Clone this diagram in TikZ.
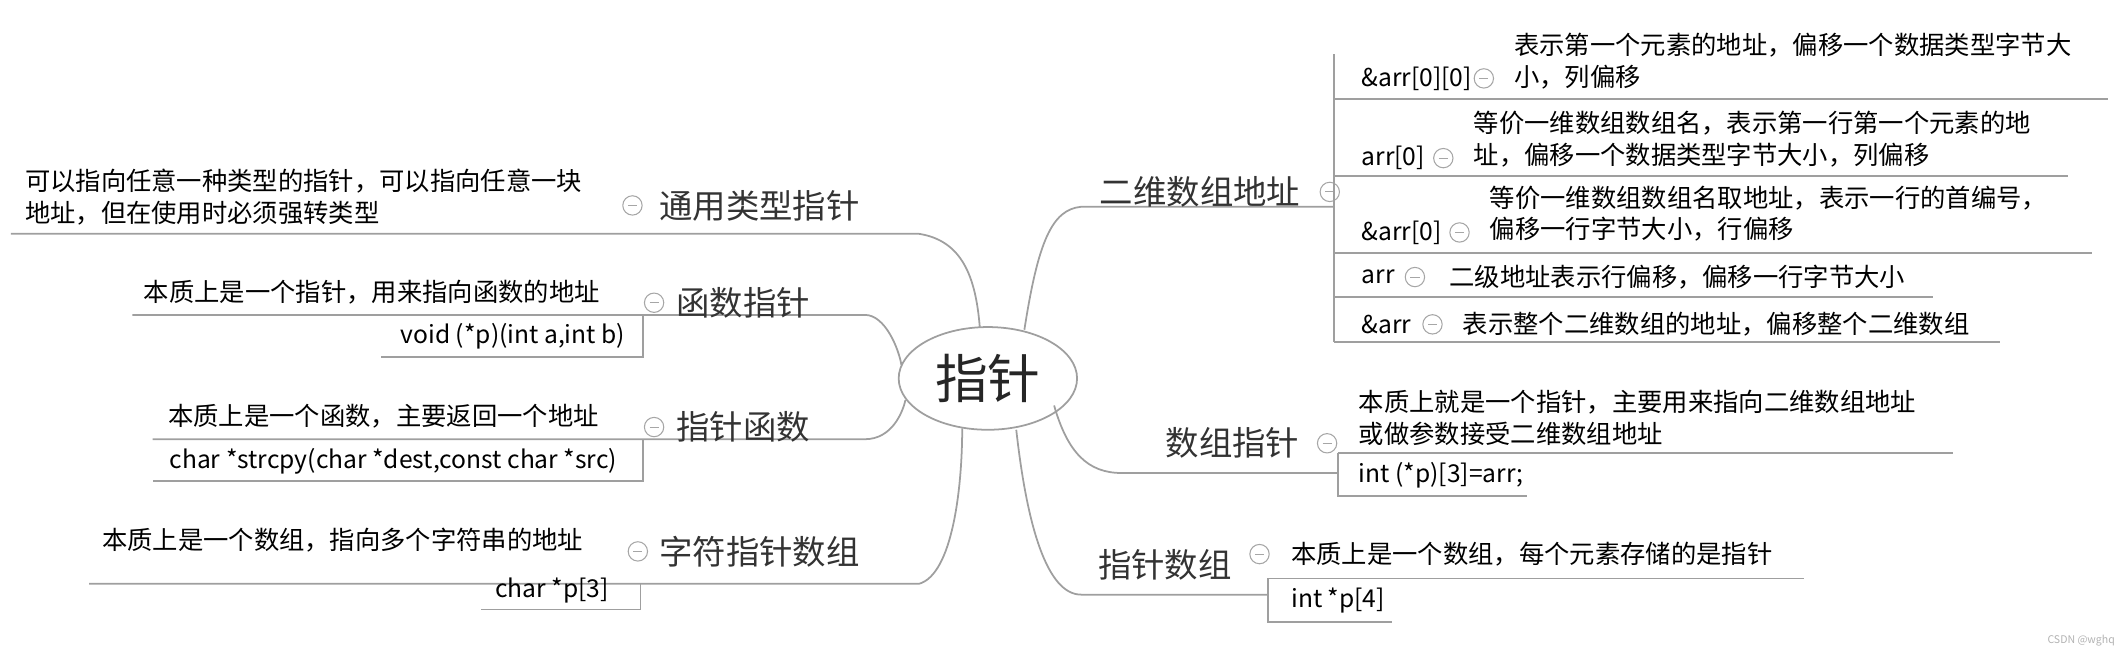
\documentclass[tikz,border=0pt]{standalone}
\usepackage{fontspec}
\setmainfont{Noto Sans CJK SC}
\begin{document}
\begin{tikzpicture}[x=0.01351cm,y=-0.01351cm,
  ln/.style={draw=gray!75,line width=0.5pt},
  leaf/.style={font=\fontsize{7.2}{9}\selectfont,inner sep=0pt,anchor=west,align=left},
  cd/.style={font=\fontsize{7}{8}\selectfont},
  br/.style={font=\fontsize{9.5}{11}\selectfont,inner sep=0pt,text=black!80},
  ic/.style={circle,draw=gray!70,line width=0.3pt,minimum size=5.5pt,inner sep=0pt,
    path picture={\draw[gray!70,line width=0.3pt] ([xshift=-1.3pt]path picture bounding box.center)--([xshift=1.3pt]path picture bounding box.center);}}]
\useasboundingbox (0,0) rectangle (1568,484);
\draw[ln] (731,280) ellipse (66 and 38);
\node[font=\fontsize{15}{17}\selectfont,text=black!85] (ct) at (731,280) {指针};
% ---- left branches
\coordinate (l1) at (680,173);
\draw[ln] (8,173) -- (l1) .. controls (712,178) and (722,205) .. (725,242);
\node[br] (b1) at (562,152) {通用类型指针};
\node[ic] (i1) at (468,152) {};
\node[leaf] (t1) at (18,146) {可以指向任意一种类型的指针，可以指向任意一块\\地址，但在使用时必须强转类型};

\coordinate (l2) at (640,233);
\draw[ln] (98,233) -- (l2) .. controls (655,233) and (665,258) .. (667,270);
\node[br] (b2) at (550,224) {函数指针};
\node[ic] (i2) at (484,224) {};
\node[leaf] (t2) at (106,216) {本质上是一个指针，用来指向函数的地址};
\draw[ln] (476,233) -- (476,264) -- (282,264);
\node[leaf,cd] (x2) at (296,249) {void (*p)(int a,int b)};

\coordinate (l3) at (640,325);
\draw[ln] (113,325) -- (l3) .. controls (660,325) and (668,305) .. (670,296);
\node[br] (b3) at (550,316) {指针函数};
\node[ic] (i3) at (484,316) {};
\node[leaf] (t3) at (124,308) {本质上是一个函数，主要返回一个地址};
\draw[ln] (476,325) -- (476,356) -- (113,356);
\node[leaf,cd] (x3) at (125,341) {char *strcpy(char *dest,const char *src)};

\coordinate (l4) at (680,432);
\draw[ln] (66,432) -- (l4) .. controls (705,425) and (712,360) .. (712,317);
\node[br] (b4) at (562,408) {字符指针数组};
\node[ic] (i4) at (472,408) {};
\node[leaf] (t4) at (75,400) {本质上是一个数组，指向多个字符串的地址};
\draw[ln] (474,432) -- (474,451) -- (356,451);
\node[leaf,cd] (x4) at (366,437) {char *p[3]};

% ---- right branches
\coordinate (r1) at (800,153);
\draw[ln] (758,244) .. controls (768,180) and (778,155) .. (r1) -- (987,153);
\node[br] (b5) at (888,142) {二维数组地址};
\node[ic] (i5) at (984,142) {};
\draw[ln] (987,40) -- (987,253);
\draw[ln] (987,73) -- (1560,73);
\draw[ln] (987,130) -- (1530,130);
\draw[ln] (987,187) -- (1548,187);
\draw[ln] (987,220) -- (1430,220);
\draw[ln] (987,253) -- (1480,253);
\node[leaf,cd] (k1) at (1007,58) {\&arr[0][0]};
\node[ic] (j1) at (1098,58) {};
\node[leaf] (m1) at (1120,45) {表示第一个元素的地址，偏移一个数据类型字节大\\小，列偏移};
\node[leaf,cd] (k2) at (1007,117) {arr[0]};
\node[ic] (j2) at (1068,117) {};
\node[leaf] (m2) at (1090,103) {等价一维数组数组名，表示第一行第一个元素的地\\址，偏移一个数据类型字节大小，列偏移};
\node[leaf,cd] (k3) at (1007,172) {\&arr[0]};
\node[ic] (j3) at (1080,172) {};
\node[leaf] (m3) at (1102,158) {等价一维数组数组名取地址，表示一行的首编号，\\偏移一行字节大小，行偏移};
\node[leaf,cd] (k4) at (1007,205) {arr};
\node[ic] (j4) at (1047,205) {};
\node[leaf] (m4) at (1072,205) {二级地址表示行偏移，偏移一行字节大小};
\node[leaf,cd] (k5) at (1007,240) {\&arr};
\node[ic] (j5) at (1060,240) {};
\node[leaf] (m5) at (1082,240) {表示整个二维数组的地址，偏移整个二维数组};

\coordinate (r2) at (830,350);
\draw[ln] (780,300) .. controls (790,335) and (805,350) .. (r2) -- (990,350);
\node[br] (b6) at (912,328) {数组指针};
\node[ic] (i6) at (982,328) {};
\draw[ln] (990,335) -- (1445,335);
\draw[ln] (990,335) -- (990,367) -- (1130,367);
\node[leaf] (t6) at (1005,309) {本质上就是一个指针，主要用来指向二维数组地址\\或做参数接受二维数组地址};
\node[leaf,cd] (x6) at (1005,352) {int (*p)[3]=arr;};

\coordinate (r3) at (800,440);
\draw[ln] (752,318) .. controls (760,390) and (775,440) .. (r3) -- (938,440);
\node[br] (b7) at (862,418) {指针数组};
\node[ic] (i7) at (932,410) {};
\draw[ln] (938,428) -- (1335,428);
\draw[ln] (938,428) -- (938,460) -- (1030,460);
\node[leaf] (t7) at (955,410) {本质上是一个数组，每个元素存储的是指针};
\node[leaf,cd] (x7) at (955,444) {int *p[4]};

\node[font=\fontsize{3}{4}\selectfont,text=gray!60] (wm) at (1540,474) {CSDN @wghq};
\end{tikzpicture}
\end{document}
